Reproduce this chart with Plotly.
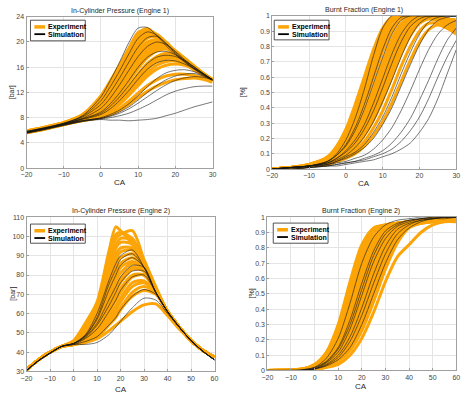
import plotly.graph_objects as go

W, H = 474, 399

# ---------------- DATA ----------------
# Panel 1: In-Cylinder Pressure (Engine 1)
ca_p1 = [-20, -15, -10, -5, 0, 2.5, 5, 7.5, 10, 12.5, 15, 17.5, 20, 22.5, 25, 27.5, 30]
p1_exp = [
    [5.9, 6.5, 7.2, 8.5, 11.5, 13.8, 16.3, 19.0, 21.5, 22.0, 20.8, 19.2, 17.8, 16.6, 15.6, 14.8, 14.1],
    [5.9, 6.5, 7.2, 8.4, 11.3, 13.6, 16.1, 18.8, 21.3, 22.1, 21.0, 19.4, 17.9, 16.7, 15.6, 14.8, 14.0],
    [5.9, 6.5, 7.2, 8.4, 11.1, 13.4, 15.9, 18.6, 21.1, 22.0, 21.1, 19.5, 18.0, 16.7, 15.7, 14.8, 14.0],
    [5.9, 6.5, 7.2, 8.3, 10.8, 13.0, 15.5, 18.2, 20.6, 21.7, 21.2, 19.7, 18.2, 16.8, 15.7, 14.8, 14.0],
    [5.8, 6.4, 7.1, 8.2, 10.5, 12.6, 15.0, 17.7, 20.1, 21.4, 21.2, 19.8, 18.3, 16.9, 15.8, 14.8, 14.0],
    [5.8, 6.4, 7.1, 8.1, 10.2, 12.2, 14.6, 17.2, 19.5, 21.0, 21.0, 19.9, 18.4, 17.0, 15.8, 14.8, 14.0],
    [5.8, 6.4, 7.1, 8.0, 9.9, 11.8, 14.2, 16.8, 19.3, 20.8, 21.1, 20.0, 18.5, 17.0, 15.8, 14.8, 14.0],
    [5.8, 6.4, 7.1, 8.1, 10.0, 11.9, 14.2, 16.7, 19.0, 20.6, 20.8, 19.8, 18.4, 17.0, 15.8, 14.8, 14.0],
    [5.8, 6.4, 7.1, 8.0, 9.8, 11.6, 13.8, 16.2, 18.5, 20.0, 20.4, 19.7, 18.4, 17.0, 15.8, 14.8, 14.0],
    [5.8, 6.4, 7.0, 7.9, 9.6, 11.3, 13.4, 15.8, 18.0, 19.7, 20.2, 19.7, 18.5, 17.1, 15.9, 14.9, 14.0],
    [5.8, 6.4, 7.0, 7.9, 9.4, 11.0, 13.0, 15.3, 17.5, 19.2, 19.9, 19.5, 18.5, 17.2, 16.0, 14.9, 14.0],
    [5.8, 6.4, 7.0, 7.9, 9.3, 10.8, 12.7, 14.9, 17.1, 18.8, 19.6, 19.5, 18.5, 17.3, 16.0, 14.9, 14.0],
    [5.7, 6.3, 7.0, 7.8, 9.1, 10.5, 12.3, 14.4, 16.6, 18.3, 19.3, 19.4, 18.6, 17.4, 16.1, 15.0, 14.0],
    [5.7, 6.3, 7.0, 7.8, 8.9, 10.2, 11.9, 14.0, 16.2, 17.9, 18.9, 19.1, 18.5, 17.4, 16.2, 15.0, 14.0],
    [5.7, 6.3, 7.0, 7.8, 8.8, 10.0, 11.7, 13.7, 15.8, 17.5, 18.6, 18.9, 18.4, 17.4, 16.2, 15.0, 14.0],
    [5.7, 6.3, 7.0, 7.7, 8.6, 9.6, 11.1, 12.9, 14.9, 16.6, 17.7, 18.2, 18.0, 17.2, 16.1, 15.0, 14.0],
    [5.7, 6.3, 6.9, 7.7, 8.5, 9.5, 10.8, 12.5, 14.4, 16.1, 17.3, 17.8, 17.7, 17.1, 16.1, 15.0, 14.0],
    [5.7, 6.3, 6.9, 7.7, 8.4, 9.3, 10.6, 12.2, 14.0, 15.7, 16.9, 17.4, 17.4, 16.9, 16.0, 15.0, 14.0],
    [5.7, 6.3, 6.9, 7.6, 8.3, 9.1, 10.3, 11.8, 13.5, 15.1, 16.3, 16.9, 17.0, 16.6, 15.9, 14.9, 13.9],
    [5.7, 6.2, 6.9, 7.6, 8.2, 9.0, 10.1, 11.5, 13.1, 14.6, 15.7, 16.3, 16.5, 16.3, 15.7, 14.9, 13.9],
    [5.6, 6.2, 6.9, 7.6, 8.1, 8.7, 9.5, 10.6, 11.9, 13.1, 14.0, 14.6, 14.9, 14.9, 14.7, 14.3, 13.8],
    [5.6, 6.2, 6.9, 7.5, 8.0, 8.5, 9.2, 10.1, 11.2, 12.2, 13.0, 13.6, 14.0, 14.2, 14.3, 14.1, 13.6],
]
p1_sim = [
    [5.8, 6.4, 7.1, 8.3, 11.3, 13.9, 16.8, 19.9, 22.2, 22.3, 21.0, 19.4, 18.0, 16.8, 15.7, 14.8, 14.0],
    [5.8, 6.4, 7.1, 8.2, 10.7, 12.9, 15.4, 18.1, 20.6, 21.6, 21.1, 19.7, 18.2, 16.9, 15.8, 14.9, 14.0],
    [5.8, 6.4, 7.1, 8.1, 10.1, 12.0, 14.3, 16.8, 19.2, 20.7, 20.9, 19.8, 18.4, 17.0, 15.8, 14.9, 14.0],
    [5.7, 6.3, 7.0, 7.9, 9.5, 11.1, 13.2, 15.5, 17.7, 19.3, 20.0, 19.6, 18.5, 17.2, 16.0, 15.0, 14.0],
    [5.7, 6.3, 7.0, 7.8, 8.9, 10.2, 11.9, 13.9, 16.0, 17.6, 18.4, 18.5, 18.0, 17.1, 16.1, 15.0, 14.0],
    [5.7, 6.3, 7.0, 7.8, 8.7, 9.8, 11.3, 13.1, 15.0, 16.6, 17.6, 17.9, 17.7, 17.0, 16.0, 15.0, 14.0],
    [5.7, 6.3, 6.9, 7.7, 8.5, 9.4, 10.7, 12.3, 14.1, 15.7, 16.7, 17.1, 17.0, 16.5, 15.8, 14.9, 13.9],
    [5.6, 6.2, 6.9, 7.5, 8.0, 8.5, 9.2, 10.2, 11.5, 12.9, 14.2, 15.1, 15.5, 15.6, 15.3, 14.7, 14.0],
    [5.6, 6.2, 6.9, 7.5, 7.9, 8.3, 8.9, 9.7, 10.8, 12.0, 13.1, 14.0, 14.6, 14.9, 15.0, 14.6, 13.9],
    [5.6, 6.2, 6.8, 7.5, 7.9, 8.2, 8.7, 9.4, 10.3, 11.3, 12.3, 13.2, 13.9, 14.3, 14.5, 14.4, 14.0],
    [5.6, 6.2, 6.8, 7.4, 7.8, 8.0, 8.3, 8.7, 9.3, 10.0, 10.8, 11.6, 12.2, 12.6, 12.9, 13.0, 13.0],
    [5.5, 6.1, 6.8, 7.4, 7.7, 7.6, 7.6, 7.5, 7.6, 7.7, 7.9, 8.3, 8.7, 9.2, 9.7, 10.1, 10.5],
]

# Panel 2: Burnt Fraction (Engine 1)
ca_b1 = [-20, -15, -10, -5, -2.5, 0, 2.5, 5, 7.5, 10, 12.5, 15, 17.5, 20, 22.5, 25, 27.5, 30]
b1_exp = [
    [0, 0.01, 0.03, 0.08, 0.15, 0.26, 0.42, 0.60, 0.78, 0.92, 0.99, 1.0, 1.0, 1.0, 0.99, 0.98, 0.97, 0.96],
    [0, 0.01, 0.03, 0.07, 0.13, 0.23, 0.38, 0.56, 0.74, 0.89, 0.98, 1.0, 1.0, 1.0, 0.99, 0.98, 0.97, 0.96],
    [0, 0.01, 0.03, 0.07, 0.13, 0.22, 0.36, 0.54, 0.72, 0.87, 0.97, 1.0, 1.0, 1.0, 0.99, 0.98, 0.97, 0.96],
    [0, 0.01, 0.03, 0.07, 0.12, 0.21, 0.34, 0.52, 0.70, 0.86, 0.96, 1.0, 1.0, 1.0, 0.99, 0.98, 0.97, 0.96],
    [0, 0.01, 0.02, 0.06, 0.11, 0.19, 0.31, 0.47, 0.65, 0.82, 0.93, 0.99, 1.0, 1.0, 0.99, 0.98, 0.97, 0.96],
    [0, 0.01, 0.02, 0.06, 0.10, 0.18, 0.29, 0.45, 0.63, 0.80, 0.92, 0.99, 1.0, 1.0, 1.0, 0.99, 0.98, 0.97],
    [0, 0.01, 0.02, 0.06, 0.10, 0.17, 0.28, 0.43, 0.60, 0.77, 0.90, 0.98, 1.0, 1.0, 1.0, 0.99, 0.98, 0.97],
    [0, 0.01, 0.02, 0.05, 0.09, 0.15, 0.24, 0.37, 0.53, 0.70, 0.85, 0.95, 0.99, 1.0, 1.0, 0.99, 0.98, 0.97],
    [0, 0.01, 0.02, 0.05, 0.09, 0.14, 0.22, 0.34, 0.49, 0.66, 0.81, 0.93, 0.98, 1.0, 1.0, 0.99, 0.98, 0.97],
    [0, 0.01, 0.02, 0.05, 0.08, 0.13, 0.20, 0.31, 0.45, 0.61, 0.77, 0.90, 0.97, 1.0, 1.0, 0.99, 0.98, 0.97],
    [0, 0.01, 0.02, 0.05, 0.08, 0.12, 0.18, 0.28, 0.41, 0.56, 0.72, 0.86, 0.95, 0.99, 0.99, 0.98, 0.96, 0.94],
    [0, 0.01, 0.02, 0.04, 0.07, 0.11, 0.17, 0.26, 0.38, 0.52, 0.68, 0.82, 0.93, 0.98, 1.0, 0.99, 0.98, 0.97],
    [0, 0.01, 0.02, 0.04, 0.06, 0.10, 0.15, 0.24, 0.35, 0.49, 0.64, 0.79, 0.90, 0.96, 0.98, 0.97, 0.94, 0.91],
    [0, 0.01, 0.02, 0.04, 0.06, 0.09, 0.14, 0.22, 0.32, 0.45, 0.60, 0.75, 0.87, 0.95, 0.98, 0.97, 0.95, 0.92],
    [0, 0.01, 0.02, 0.04, 0.05, 0.08, 0.12, 0.18, 0.27, 0.38, 0.52, 0.67, 0.80, 0.90, 0.95, 0.95, 0.92, 0.89],
    [0, 0.01, 0.02, 0.03, 0.05, 0.07, 0.10, 0.15, 0.22, 0.31, 0.43, 0.57, 0.71, 0.83, 0.91, 0.94, 0.92, 0.88],
]
b1_sim = [
    [0, 0.01, 0.02, 0.05, 0.10, 0.19, 0.33, 0.52, 0.74, 0.92, 1.0, 1.0, 1.0, 1.0, 1.0, 1.0, 1.0, 1.0],
    [0, 0.01, 0.02, 0.05, 0.09, 0.16, 0.27, 0.42, 0.60, 0.78, 0.92, 0.99, 1.0, 1.0, 1.0, 1.0, 1.0, 1.0],
    [0, 0.01, 0.02, 0.05, 0.09, 0.15, 0.25, 0.39, 0.56, 0.73, 0.88, 0.97, 1.0, 1.0, 1.0, 1.0, 1.0, 1.0],
    [0, 0.01, 0.02, 0.04, 0.07, 0.12, 0.19, 0.29, 0.43, 0.59, 0.75, 0.88, 0.96, 1.0, 1.0, 1.0, 1.0, 1.0],
    [0, 0.01, 0.02, 0.04, 0.07, 0.11, 0.17, 0.26, 0.38, 0.53, 0.69, 0.83, 0.93, 0.98, 1.0, 1.0, 1.0, 1.0],
    [0, 0.01, 0.02, 0.04, 0.06, 0.09, 0.14, 0.21, 0.31, 0.44, 0.58, 0.73, 0.86, 0.95, 0.99, 1.0, 1.0, 1.0],
    [0, 0.01, 0.02, 0.03, 0.05, 0.08, 0.11, 0.16, 0.24, 0.34, 0.47, 0.62, 0.76, 0.88, 0.96, 0.99, 1.0, 1.0],
    [0, 0.01, 0.02, 0.03, 0.05, 0.07, 0.10, 0.14, 0.20, 0.29, 0.40, 0.54, 0.68, 0.81, 0.91, 0.97, 0.99, 1.0],
    [0, 0.01, 0.01, 0.03, 0.04, 0.05, 0.07, 0.09, 0.13, 0.19, 0.27, 0.38, 0.51, 0.65, 0.78, 0.88, 0.94, 0.97],
    [0, 0.00, 0.01, 0.02, 0.03, 0.04, 0.05, 0.07, 0.09, 0.12, 0.17, 0.24, 0.33, 0.45, 0.58, 0.72, 0.84, 0.92],
    [0, 0.00, 0.01, 0.02, 0.03, 0.04, 0.05, 0.06, 0.08, 0.10, 0.13, 0.18, 0.25, 0.34, 0.46, 0.60, 0.73, 0.84],
    [0, 0.00, 0.01, 0.02, 0.02, 0.03, 0.04, 0.05, 0.06, 0.08, 0.10, 0.13, 0.17, 0.24, 0.33, 0.46, 0.62, 0.78],
]

# Panel 3: In-Cylinder Pressure (Engine 2)
ca_p2 = [-20, -15, -10, -5, 0, 5, 10, 15, 18, 20, 25, 30, 35, 40, 45, 50, 55, 60]
p2_exp = [
    [31, 36, 40, 43, 46, 55, 66, 92, 105, 103, 96, 86, 73, 61, 53, 46, 41, 37.5],
    [31, 36, 40, 43, 45.5, 54, 65, 90, 101, 102, 99, 87, 73, 61, 53, 46, 41, 37.5],
    [31, 36, 40, 43, 45.5, 53, 64, 88, 99, 101, 103, 88, 74, 61, 53, 46, 41, 37.5],
    [31, 36, 40, 43, 45, 52, 63, 86, 96, 99, 98, 87, 73, 61, 53, 46, 41, 37.5],
    [31, 36, 40, 43, 45, 52, 62, 84, 94, 97, 96, 86, 72, 61, 53, 46, 41, 37.5],
    [31, 36, 40, 43, 45, 51, 61, 81, 91, 94, 94, 86, 72, 61, 53, 46, 41, 37.5],
    [31, 36, 40, 43, 45, 51, 60, 79, 88, 92, 93, 85, 72, 61, 53, 46, 41, 37.5],
    [31, 36, 40, 43, 44.5, 50, 59, 76, 85, 89, 91, 85, 72, 61, 53, 46, 41, 37.5],
    [31, 36, 40, 43, 44.5, 50, 58, 74, 82, 86, 89, 84, 72, 61, 53, 46, 41, 37.5],
    [31, 36, 40, 43, 44.5, 49, 57, 71, 79, 84, 87, 83, 72, 61, 53, 46, 41, 37.5],
    [31, 36, 40, 43, 44.5, 49, 56, 69, 77, 81, 86, 83, 72, 61, 53, 46, 41, 37.5],
    [31, 36, 40, 43, 44.5, 48, 55, 67, 74, 78, 84, 82, 72, 61, 53, 46, 41, 37.5],
    [31, 36, 40, 43, 44.5, 48, 54, 65, 72, 76, 83, 82, 72, 61, 53, 46, 41, 37.5],
    [31, 36, 40, 43, 44, 47, 53, 63, 69, 73, 80, 80, 72, 61, 53, 46, 41, 37.5],
    [31, 36, 40, 43, 44, 47, 52, 61, 67, 71, 79, 80, 72, 61, 53, 46, 41, 37.5],
    [31, 36, 40, 43, 44, 46, 51, 59, 64, 68, 76, 77, 71, 61, 53, 46, 41, 37.5],
    [31, 36, 40, 43, 44, 46, 50, 57, 62, 66, 74, 76, 71, 61, 53, 46, 41, 37.5],
    [31, 36, 40, 43, 44, 45.5, 49, 55, 60, 63, 71, 74, 71, 61, 53, 46, 41, 37.5],
    [31, 36, 40, 43, 44, 45.5, 48, 54, 58, 62, 69, 72, 70, 61, 53, 46, 41, 37.5],
    [31, 36, 40, 43, 44, 45, 47, 51, 54, 56, 61, 64.5, 65, 59, 52, 46, 41, 37.5],
]
p2_sim = [
    [30.5, 35.5, 39.5, 43, 44.5, 49, 60, 77, 86, 90, 93, 84, 71, 61, 53, 46, 40.5, 36],
    [30.5, 35.5, 39.5, 43, 44.5, 48.5, 58, 75, 83, 88, 91, 84, 71, 61, 53, 46, 40.5, 36],
    [30.5, 35.5, 39.5, 43, 44.5, 48.5, 57, 72, 80, 85, 89, 84, 71, 61, 53, 46, 40.5, 36],
    [30.5, 35.5, 39.5, 43, 44.5, 48, 55, 67, 74, 79, 85, 84, 71, 61, 53, 46, 40.5, 36],
    [30.5, 35.5, 39.5, 43, 44.5, 47.5, 54, 64, 71, 76, 82, 82, 71, 61, 53, 46, 40.5, 36],
    [30.5, 35.5, 39.5, 43, 44, 47, 52, 61, 67, 72, 79, 80, 71, 61, 53, 46, 40.5, 36],
    [30.5, 35.5, 39.5, 43, 44, 45.5, 48, 54, 58, 62, 69, 72.5, 70, 61, 53, 46, 40.5, 36],
    [30.5, 35.5, 39.5, 43, 44, 44, 45, 49, 53, 56, 63, 68, 67, 60, 53, 46, 40.5, 36],
]

# Panel 4: Burnt Fraction (Engine 2)
ca_b2 = [-20, -10, -5, 0, 5, 10, 15, 20, 25, 30, 35, 40, 45, 50, 55, 60]
b2_exp = [
    [0, 0.005, 0.01, 0.04, 0.12, 0.30, 0.58, 0.82, 0.93, 0.95, 0.96, 0.97, 0.98, 0.99, 0.99, 1.0],
    [0, 0.005, 0.01, 0.035, 0.11, 0.28, 0.55, 0.80, 0.92, 0.95, 0.96, 0.97, 0.98, 0.99, 0.99, 1.0],
    [0, 0.005, 0.01, 0.03, 0.11, 0.27, 0.53, 0.78, 0.92, 0.95, 0.96, 0.97, 0.98, 0.99, 0.99, 1.0],
    [0, 0.005, 0.01, 0.03, 0.10, 0.24, 0.48, 0.74, 0.90, 0.94, 0.96, 0.97, 0.98, 0.99, 0.99, 1.0],
    [0, 0.005, 0.01, 0.03, 0.09, 0.22, 0.44, 0.70, 0.87, 0.94, 0.96, 0.97, 0.98, 0.99, 0.99, 1.0],
    [0, 0, 0.01, 0.03, 0.08, 0.19, 0.40, 0.65, 0.84, 0.93, 0.96, 0.97, 0.98, 0.99, 0.99, 0.99],
    [0, 0, 0.01, 0.025, 0.07, 0.17, 0.36, 0.61, 0.81, 0.92, 0.96, 0.97, 0.98, 0.99, 0.99, 0.99],
    [0, 0, 0.005, 0.02, 0.06, 0.15, 0.32, 0.56, 0.78, 0.91, 0.95, 0.97, 0.98, 0.99, 0.99, 0.99],
    [0, 0, 0.005, 0.02, 0.055, 0.13, 0.29, 0.52, 0.74, 0.89, 0.95, 0.97, 0.98, 0.99, 0.99, 0.99],
    [0, 0, 0.005, 0.02, 0.05, 0.12, 0.26, 0.48, 0.70, 0.86, 0.94, 0.97, 0.98, 0.99, 0.99, 0.99],
    [0, 0, 0, 0.015, 0.045, 0.11, 0.23, 0.44, 0.66, 0.83, 0.93, 0.96, 0.98, 0.99, 0.99, 0.99],
    [0, 0, 0, 0.01, 0.04, 0.10, 0.21, 0.40, 0.62, 0.80, 0.91, 0.96, 0.97, 0.98, 0.99, 0.99],
    [0, 0, 0, 0.01, 0.035, 0.09, 0.19, 0.37, 0.58, 0.77, 0.90, 0.95, 0.97, 0.98, 0.99, 0.99],
    [0, 0, 0, 0.01, 0.03, 0.08, 0.17, 0.33, 0.54, 0.74, 0.88, 0.95, 0.97, 0.98, 0.98, 0.99],
    [0, 0, 0, 0.01, 0.025, 0.07, 0.15, 0.30, 0.50, 0.70, 0.86, 0.94, 0.96, 0.97, 0.98, 0.99],
    [0, 0, 0, 0.01, 0.02, 0.06, 0.13, 0.26, 0.45, 0.66, 0.83, 0.93, 0.96, 0.97, 0.98, 0.98],
    [0, 0, 0, 0.005, 0.02, 0.04, 0.10, 0.21, 0.38, 0.58, 0.74, 0.82, 0.90, 0.95, 0.97, 0.97],
]
b2_sim = [
    [0, 0, 0.005, 0.02, 0.08, 0.21, 0.44, 0.70, 0.87, 0.95, 0.98, 0.99, 1.0, 1.0, 1.0, 1.0],
    [0, 0, 0.005, 0.02, 0.06, 0.15, 0.33, 0.57, 0.78, 0.91, 0.96, 0.98, 0.99, 1.0, 1.0, 1.0],
    [0, 0, 0, 0.015, 0.055, 0.14, 0.30, 0.53, 0.75, 0.89, 0.95, 0.98, 0.99, 1.0, 1.0, 1.0],
    [0, 0, 0, 0.01, 0.05, 0.12, 0.27, 0.49, 0.71, 0.86, 0.94, 0.97, 0.99, 0.99, 1.0, 1.0],
    [0, 0, 0, 0.01, 0.04, 0.10, 0.22, 0.41, 0.63, 0.81, 0.92, 0.96, 0.98, 0.99, 1.0, 1.0],
    [0, 0, 0, 0.01, 0.035, 0.085, 0.19, 0.36, 0.57, 0.76, 0.89, 0.95, 0.98, 0.99, 1.0, 1.0],
    [0, 0, 0, 0.01, 0.03, 0.07, 0.15, 0.30, 0.50, 0.70, 0.85, 0.93, 0.97, 0.99, 0.99, 1.0],
]

titles = ["In-Cylinder Pressure (Engine 1)", "Burnt Fraction (Engine 1)",
          "In-Cylinder Pressure (Engine 2)", "Burnt Fraction (Engine 2)"]
ylabels = ["[bar]", "[%]", "[bar]", "[%]"]
xlabel = "CA"
legend_names = ["Experiment", "Simulation"]

# ---------------- STYLE / LAYOUT ----------------
ORANGE = "rgb(252,165,8)"
BLACK = "rgb(25,25,25)"
FONT = "Liberation Sans"
FRAME = "rgb(160,160,160)"
GRID = "rgb(228,228,228)"
TICKC = "rgb(70,70,70)"


def px_x(p):
    return p / W


def px_y(p):
    return 1 - p / H


# plot rectangles in pixels: (left, right, top, bottom)
rects = [(21, 211, 13, 167), (272, 460, 12, 168), (21, 213, 217, 374), (267, 460, 217, 373)]
xranges = [[-20, 30], [-20, 30], [-20, 60], [-20, 60]]
yranges = [[0, 24], [0, 1], [30, 110], [0, 1]]
xticks = [list(range(-20, 31, 10)), list(range(-20, 31, 10)), list(range(-20, 61, 10)), list(range(-20, 61, 10))]
yticks = [list(range(0, 25, 4)), [i / 10 for i in range(11)], list(range(30, 111, 10)), [i / 10 for i in range(11)]]

panels = [(ca_p1, p1_exp, p1_sim), (ca_b1, b1_exp, b1_sim), (ca_p2, p2_exp, p2_sim), (ca_b2, b2_exp, b2_sim)]

fig = go.Figure()
for i, (xs, exp, sim) in enumerate(panels):
    xa = "x" if i == 0 else f"x{i+1}"
    ya = "y" if i == 0 else f"y{i+1}"
    for c in exp:
        fig.add_trace(go.Scatter(x=xs, y=c, mode="lines", xaxis=xa, yaxis=ya, showlegend=False,
                                 line=dict(color=ORANGE, width=3.0, shape="spline", smoothing=0.8),
                                 hoverinfo="skip"))
    for c in sim:
        fig.add_trace(go.Scatter(x=xs, y=c, mode="lines", xaxis=xa, yaxis=ya, showlegend=False,
                                 line=dict(color=BLACK, width=0.8, shape="spline", smoothing=0.8),
                                 opacity=0.75, hoverinfo="skip"))

layout = dict(width=W, height=H, margin=dict(l=0, r=0, t=0, b=0),
              paper_bgcolor="white", plot_bgcolor="white", showlegend=False,
              font=dict(family=FONT, size=7, color=TICKC))
annotations = []
shapes = []
legend_boxes = [(25, 81, 16.5, 37.5), (274, 330, 16.5, 36.5), (25, 81, 224, 243.5), (273, 329, 223, 243.5)]
label_pos = [((116, 7), (7, 90), (116, 182)),
             ((366, 6), (243, 90), (366, 183)),
             ((117, 211), (7, 295), (117, 392)),
             ((363, 211), (251, 295), (363, 389))]

for i in range(4):
    l, r, t, b = rects[i]
    sx = "" if i == 0 else str(i + 1)
    common = dict(ticks="inside", ticklen=2, tickcolor=FRAME,
                  showline=True, linecolor=FRAME, linewidth=1, mirror=True,
                  showgrid=True, gridcolor=GRID, gridwidth=1, zeroline=False,
                  tickfont=dict(size=7, color=TICKC))
    layout[f"xaxis{sx}"] = dict(domain=[px_x(l), px_x(r)], range=xranges[i], anchor=f"y{sx}",
                                tickvals=xticks[i], **common)
    layout[f"yaxis{sx}"] = dict(domain=[px_y(b), px_y(t)], range=yranges[i], anchor=f"x{sx}",
                                tickvals=yticks[i], **common)
    (tx, ty), (lx, ly), (cx, cy) = label_pos[i]
    annotations.append(dict(text=titles[i], x=px_x(tx), y=px_y(ty), xref="paper", yref="paper",
                            showarrow=False, font=dict(size=7, color="rgb(40,40,40)"),
                            xanchor="center", yanchor="middle"))
    annotations.append(dict(text=ylabels[i], x=px_x(lx), y=px_y(ly), xref="paper", yref="paper",
                            showarrow=False, textangle=-90, font=dict(size=7, color="rgb(40,40,40)"),
                            xanchor="center", yanchor="middle"))
    annotations.append(dict(text=xlabel, x=px_x(cx), y=px_y(cy), xref="paper", yref="paper",
                            showarrow=False, font=dict(size=8, color="rgb(40,40,40)"),
                            xanchor="center", yanchor="middle"))
    bl, br, bt, bb = legend_boxes[i]
    shapes.append(dict(type="rect", xref="paper", yref="paper", x0=px_x(bl), x1=px_x(br),
                       y0=px_y(bb), y1=px_y(bt), line=dict(color="rgb(40,40,40)", width=0.8),
                       fillcolor="white"))
    ly1 = bt + 6.8
    ly2 = bt + 14.2
    shapes.append(dict(type="line", xref="paper", yref="paper", x0=px_x(bl + 4), x1=px_x(bl + 15),
                       y0=px_y(ly1), y1=px_y(ly1), line=dict(color=ORANGE, width=3.5)))
    shapes.append(dict(type="line", xref="paper", yref="paper", x0=px_x(bl + 4), x1=px_x(bl + 15),
                       y0=px_y(ly2), y1=px_y(ly2), line=dict(color="black", width=1.8)))
    for name, yy in zip(legend_names, (ly1, ly2)):
        annotations.append(dict(text=f"<b>{name}</b>", x=px_x(bl + 16), y=px_y(yy), xref="paper", yref="paper",
                                showarrow=False, font=dict(size=7, color="black"),
                                xanchor="left", yanchor="middle"))

layout["annotations"] = annotations
layout["shapes"] = shapes
fig.update_layout(**layout)
fig.write_html("out.html", config={"displayModeBar": False},
               post_script="document.body.style.margin='0';document.body.style.overflow='hidden';")
